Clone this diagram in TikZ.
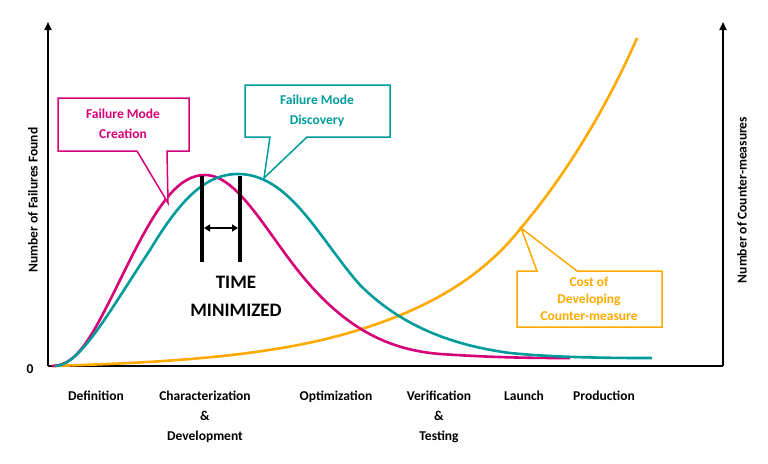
\documentclass[tikz,border=0pt]{standalone}
\usepackage{fontspec}
\setmainfont{Carlito}
\usetikzlibrary{arrows.meta}
\definecolor{mag}{RGB}{214,0,120}
\definecolor{teal2}{RGB}{0,155,155}
\definecolor{orng}{RGB}{255,170,0}
\tikzset{lab/.style={font=\bfseries\fontsize{13.5}{20}\selectfont,align=center},
 axis/.style={line width=1.8pt,-{Triangle[length=8pt,width=7pt]}},
 crv/.style={line width=2.6pt}}
\begin{document}
\begin{tikzpicture}[x=1pt,y=-1pt]
\useasboundingbox (0,0) rectangle (768,463);
\coordinate (o) at (48,366);
\coordinate (ytop) at (48,22);
\coordinate (xr) at (723,366);
\coordinate (rtop) at (723,22);
\draw[axis] (o) -- (ytop);
\draw[line width=1.8pt] (o) -- (xr);
\draw[axis] (xr) -- (rtop);
\node[lab,rotate=90] (yl) at (33,200) {Number of Failures Found};
\node[lab,rotate=90] (yr) at (742,200) {Number of Counter-measures};
\node[lab] (zero) at (30,369) {0};
% curves
\draw[crv,orng] (52,366) .. controls (150,363) and (250,358) .. (330,338) .. controls (420,315) and (480,280) .. (521,228) .. controls (570,170) and (610,100) .. (637,38);
\draw[crv,mag] (52,366) .. controls (80,366) and (95,330) .. (130,260) .. controls (160,200) and (180,175) .. (205,175) .. controls (240,175) and (270,240) .. (310,285) .. controls (350,330) and (390,350) .. (440,354) .. controls (500,358) and (540,358) .. (570,358);
\draw[crv,teal2] (55,366) .. controls (80,366) and (110,310) .. (150,250) .. controls (180,200) and (205,174) .. (238,174) .. controls (290,174) and (320,240) .. (360,285) .. controls (400,325) and (450,345) .. (510,353) .. controls (560,358) and (620,358) .. (652,358);
% bars
\draw[line width=3.2pt] (202,176) -- (202,262);
\draw[line width=3.2pt] (240,176) -- (240,262);
\coordinate (al) at (204,228); \coordinate (ar) at (238,228);
\draw[line width=2pt,{Triangle[length=6pt,width=7pt]}-{Triangle[length=6pt,width=7pt]}] (al) -- (ar);
\node[font=\bfseries\fontsize{19}{28}\selectfont,align=center] (tm) at (236,296) {TIME\\MINIMIZED};
% callouts
\draw[mag,line width=1.5pt,fill=white] (58,98) -- (189,98) -- (189,151) -- (167,151) -- (168,203) -- (137,151) -- (58,151) -- cycle;
\node[lab,mag] (c1) at (123,124) {Failure Mode\\Creation};
\draw[teal2,line width=1.5pt,fill=white] (245,85) -- (390,85) -- (390,137) -- (307,137) -- (264,178) -- (270,137) -- (245,137) -- cycle;
\node[lab,teal2] (c2) at (317,111) {Failure Mode\\Discovery};
\draw[orng,line width=1.5pt,fill=white] (517,271) -- (537,271) -- (521,228) -- (577,271) -- (662,271) -- (662,327) -- (517,327) -- cycle;
\node[lab,orng,font=\bfseries\fontsize{13.5}{17}\selectfont] (c3) at (589,299) {Cost of\\Developing\\Counter-measure};
% categories
\node[lab,anchor=north] (d1) at (96,387) {Definition};
\node[lab,anchor=north] (d2) at (205,387) {Characterization\\\&\\Development};
\node[lab,anchor=north] (d3) at (336,387) {Optimization};
\node[lab,anchor=north] (d4) at (439,387) {Verification\\\&\\Testing};
\node[lab,anchor=north] (d5) at (524,387) {Launch};
\node[lab,anchor=north] (d6) at (604,387) {Production};
\end{tikzpicture}
\end{document}
